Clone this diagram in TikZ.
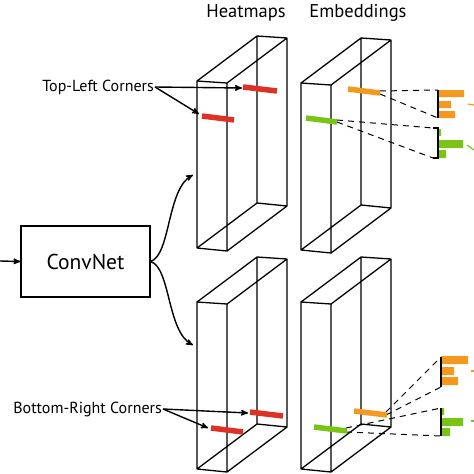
\documentclass[tikz,border=0pt]{standalone}
\usepackage{fontspec}
\setmainfont{PT Sans}
\usetikzlibrary{arrows, positioning}

\definecolor{heatred}{RGB}{222,48,36}
\definecolor{embedorange}{RGB}{244,152,32}
\definecolor{embedgreen}{RGB}{122,196,22}

\begin{document}
\begin{tikzpicture}[x=1pt, y=-1pt]
	\tikzset{>=stealth', boxline/.style={line width=1.3pt, line join=round},
		conn/.style={->, line width=1.4pt},
		corner/.style={line width=5.5pt},
		pull/.style={line width=1pt, dash pattern=on 6pt off 5pt},
		axis/.style={line width=1.2pt},
		label/.style={font=\fontsize{16}{17}\selectfont, inner sep=1pt}}
	\useasboundingbox (0,0) rectangle (474,474);

	% feature maps
	\foreach \bx/\by in {197/81, 301/83, 197/302, 301/302}{
		\draw[boxline] (\bx,\by) -- ++(30,2) -- ++(0,168) -- ++(-30,-3) -- cycle
			(\bx+60,\by-45) -- ++(30,2) -- ++(0,168) -- ++(-30,-3) -- cycle
			(\bx,\by) -- ++(60,-45) (\bx+30,\by+2) -- ++(60,-45)
			(\bx+30,\by+170) -- ++(60,-45) (\bx,\by+167) -- ++(60,-45);
	}

	\node[font=\fontsize{18.5}{19}\selectfont] (heat) at (246,13) {Heatmaps};
	\node[font=\fontsize{18.5}{19}\selectfont] (embed) at (358,13) {Embeddings};

	\node[draw, line width=1.1pt, minimum width=129pt, minimum height=71pt,
		font=\fontsize{21.5}{22}\selectfont] (convnet) at (85.5,261.5) {ConvNet};
	\coordinate (input) at (0,261);
	\coordinate (hm1) at (193,175);
	\coordinate (hm2) at (193,345);
	\draw[conn] (input) -- (convnet.west);
	\draw[conn] (convnet.east) .. controls +(20,-6) and +(-26,14) .. (hm1);
	\draw[conn] (convnet.east) .. controls +(20,6) and +(-26,-14) .. (hm2);

	% embedding pulls
	\coordinate (o1a) at (380,91); \coordinate (o1b) at (380,94);
	\coordinate (g1a) at (337,120); \coordinate (g1b) at (337,122);
	\coordinate (o2a) at (386,412); \coordinate (o2b) at (386,415);
	\coordinate (g2a) at (346,428); \coordinate (g2b) at (346,432);
	\coordinate (ho1t) at (438,90); \coordinate (ho1b) at (438,118);
	\coordinate (hg1t) at (433,128); \coordinate (hg1b) at (433,158);
	\coordinate (ho2t) at (441,357); \coordinate (ho2b) at (441,387);
	\coordinate (hg2t) at (441,408); \coordinate (hg2b) at (441,436);
	\draw[pull] (o1a) -- (ho1t) (o1b) -- (ho1b);
	\draw[pull] (g1a) -- (hg1t) (g1b) -- (hg1b);
	\draw[pull] (o2a) -- (ho2t) (o2b) -- (ho2b);
	\draw[pull] (g2a) -- (hg2t) (g2b) -- (hg2b);

	% corners
	\draw[corner, heatred] (243,87) -- (277,91);
	\draw[corner, heatred] (202,116) -- (234,120);
	\draw[corner, heatred] (250,412) -- (283,416);
	\draw[corner, heatred] (211,428) -- (243,432);
	\draw[corner, embedorange] (348,89) -- (380,93);
	\draw[corner, embedgreen] (306,118) -- (337,122);
	\draw[corner, embedorange] (354,411) -- (387,415);
	\draw[corner, embedgreen] (314,427) -- (347,431);

	% histograms
	\fill[embedorange] (438,90) rectangle (464,97) (438,101) rectangle (451,108) (438,111) rectangle (455,118);
	\fill[embedgreen] (438,129) rectangle (441,136) (438,140) rectangle (463,148) (438,150) rectangle (446,158);
	\fill[embedorange] (441,356) rectangle (468,364) (441,367) rectangle (454,375) (441,377) rectangle (458,385);
	\fill[embedgreen] (441,408) rectangle (444,415) (441,418) rectangle (463,426) (441,428) rectangle (450,436);
	\draw[axis] (ho1t) -- (ho1b);
	\draw[axis] (hg1t) -- (438,128) -- (438,158) -- (hg1b);
	\draw[axis] (ho2t) -- (ho2b);
	\draw[axis] (hg2t) -- (hg2b);
	\draw[embedorange, line width=1.2pt] (468,104) -- (474,105);
	\draw[embedgreen, line width=1.2pt] (467,145) -- (474,150);
	\draw[embedorange, line width=1.2pt] (471,371) -- (474,371);
	\draw[embedgreen, line width=1.2pt] (471,421) -- (474,421);

	\node[label, anchor=east] (tlc) at (155,87) {Top-Left Corners};
	\coordinate (tl1) at (242,88);
	\coordinate (tl2) at (199,114);
	\draw[conn] (tlc.east) -- (tl1);
	\draw[conn] (tlc.east) -- (tl2);

	\node[label, anchor=east] (brc) at (163,409) {Bottom-Right Corners};
	\coordinate (br1) at (248,413);
	\coordinate (br2) at (208,428);
	\draw[conn] (brc.east) -- (br1);
	\draw[conn] (brc.east) -- (br2);
\end{tikzpicture}
\end{document}
